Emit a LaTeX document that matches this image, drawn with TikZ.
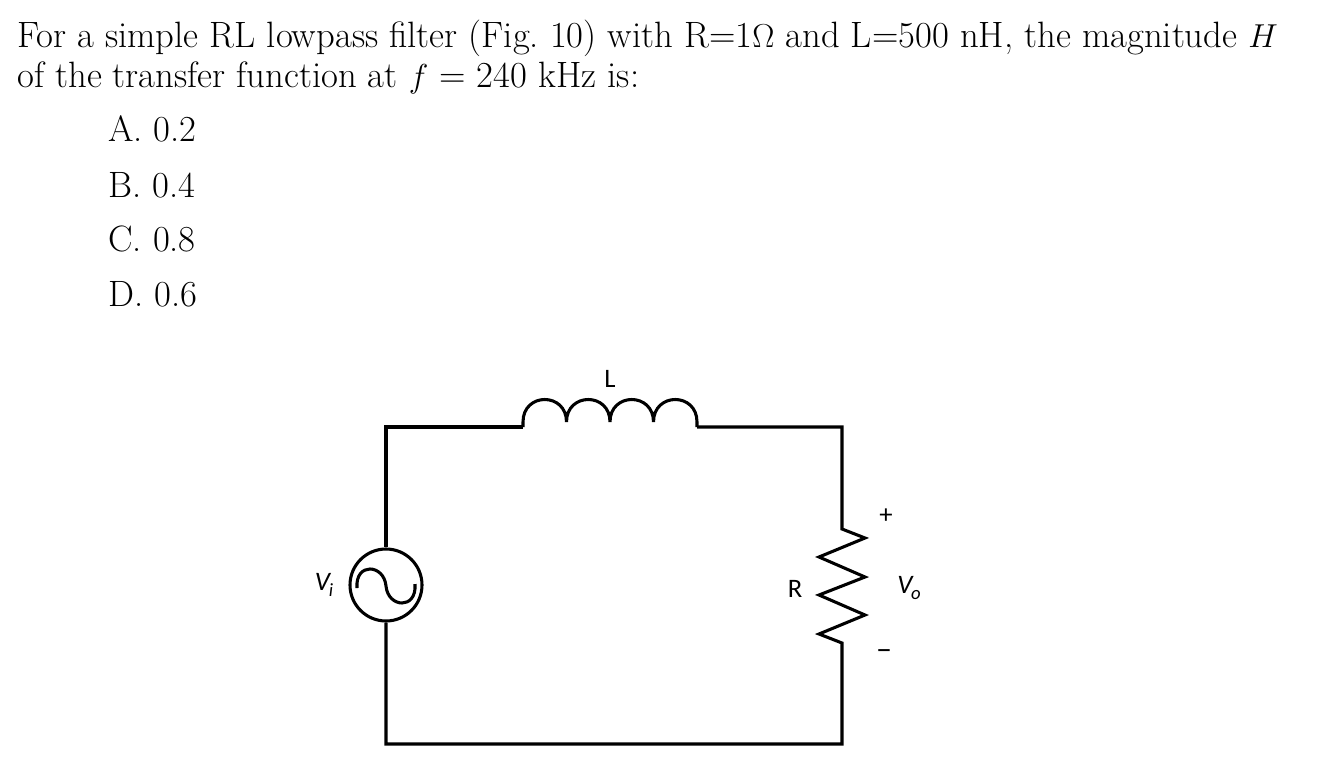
\documentclass[tikz,border=0pt]{standalone}
\usepackage{fontspec}
\newfontfamily\carlitofont{Carlito}
\begin{document}
\begin{tikzpicture}[x=0.75pt,y=-0.75pt,wire/.style={line width=2.3pt,line join=miter},
  qtext/.style={anchor=base west,inner sep=0,font=\fontsize{27.5}{33}\selectfont},
  lab/.style={font=\carlitofont\fontsize{20}{24}\selectfont,inner sep=0}]
\useasboundingbox (0,0) rectangle (1342,774);
\node[qtext] (q1) at (17,48) {For a simple RL lowpass filter (Fig.~10) with R=1$\Omega$ and L=500 nH, the magnitude $H$};
\node[qtext] (q2) at (17,88) {of the transfer function at $f$ = 240 kHz is:};
\node[qtext] (oa) at (108,142) {A.\ 0.2};
\node[qtext] (ob) at (108,197) {B.\ 0.4};
\node[qtext] (oc) at (108,251) {C.\ 0.8};
\node[qtext] (od) at (108,306) {D.\ 0.6};
% corners
\coordinate (tl) at (386,427);
\coordinate (tr) at (842,427);
\coordinate (bl) at (386,744);
\coordinate (br) at (842,744);
\coordinate (l1) at (523,427);
\coordinate (l2) at (697,427);
\coordinate (r1) at (842,529);
\coordinate (r2) at (842,643);
\node[circle,draw,line width=2.3pt,minimum size=54pt,inner sep=0] (src) at (386,585) {};
\draw[wire] (src.north) -- (tl) -- (l1);
\draw[wire] (l1) -- ++(0,-5)
  .. controls ++(0,-30) and ++(0,-30) .. ++(43.5,0)
  .. controls ++(0,-30) and ++(0,-30) .. ++(43.5,0)
  .. controls ++(0,-30) and ++(0,-30) .. ++(43.5,0)
  .. controls ++(0,-30) and ++(0,-30) .. ++(43.5,0) -- (l2);
\draw[wire] (l2) -- (tr) -- (r1) -- (865,538) -- (819,557) -- (865,577) -- (819,595) -- (865,615) -- (819,634) -- (r2) -- (br) -- (bl) -- (src.south);
\draw[line width=2.3pt] (357,588) .. controls (355,562) and (384,564) .. (386,586) .. controls (388,608) and (417,610) .. (415,584);
\node[lab] (Ll) at (610,379) {L};
\node[lab] (Rl) at (795,589) {R};
\node[lab] (Vi) at (324,585) {\itshape V\kern-1pt\raisebox{-4pt}{\fontsize{14}{16}\selectfont i}};
\node[lab] (Vo) at (909,588) {\itshape V\kern-1pt\raisebox{-4pt}{\fontsize{14}{16}\selectfont o}};
\node[lab] (pl) at (886,516) {+};
\node[lab] (mi) at (884,655) {\fontsize{24}{24}\selectfont\textendash};
\end{tikzpicture}
\end{document}
